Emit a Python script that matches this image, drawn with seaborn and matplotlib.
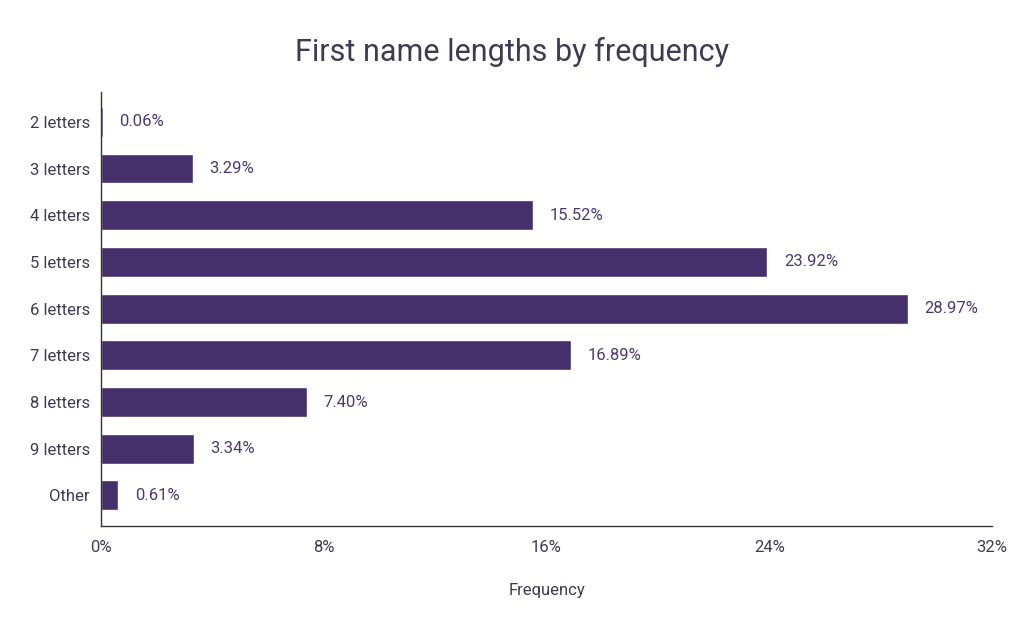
import matplotlib
matplotlib.use("Agg")
import pandas as pd
import matplotlib.pyplot as plt
import seaborn as sns

# values
categories = ['2 letters', '3 letters', '4 letters', '5 letters', '6 letters',
              '7 letters', '8 letters', '9 letters', 'Other']
frequency = [0.06, 3.29, 15.52, 23.92, 28.97, 16.89, 7.40, 3.34, 0.61]
x_ticks = [0, 8, 16, 24, 32]

df = pd.DataFrame({'Length': categories, 'Frequency': frequency})

sns.set_theme(style='white')
plt.rcParams['font.family'] = ['Roboto', 'DejaVu Sans']

bar_color = '#45306b'
text_color = '#3d3b52'

fig, ax = plt.subplots(figsize=(10.24, 6.34), dpi=100)
fig.subplots_adjust(left=0.0986, right=0.9688, top=0.855, bottom=0.17)

sns.barplot(data=df, x='Frequency', y='Length', color=bar_color,
            width=0.64, saturation=1, ax=ax)

for i, v in enumerate(frequency):
    ax.text(v + 0.6, i, f'{v:.2f}%', va='center', ha='left',
            fontsize=12, color='#4a3a73')

ax.set_xlim(0, 32)
ax.set_ylim(8.66, -0.64)
ax.set_xticks(x_ticks)
ax.set_xticklabels([f'{t}%' for t in x_ticks], fontsize=12, color=text_color)
ax.tick_params(axis='y', labelsize=12, labelcolor=text_color, length=0, pad=8)
ax.tick_params(axis='x', length=0, pad=10)
ax.set_ylabel('')
ax.set_xlabel('Frequency', fontsize=12, color=text_color, labelpad=20)

for s in ['top', 'right']:
    ax.spines[s].set_visible(False)
for s in ['left', 'bottom']:
    ax.spines[s].set_color('#333333')
    ax.spines[s].set_linewidth(1)

fig.suptitle('First name lengths by frequency', fontsize=22, color=text_color,
             y=0.918, va='center')

plt.savefig('out.png', dpi=100)
plt.close()
